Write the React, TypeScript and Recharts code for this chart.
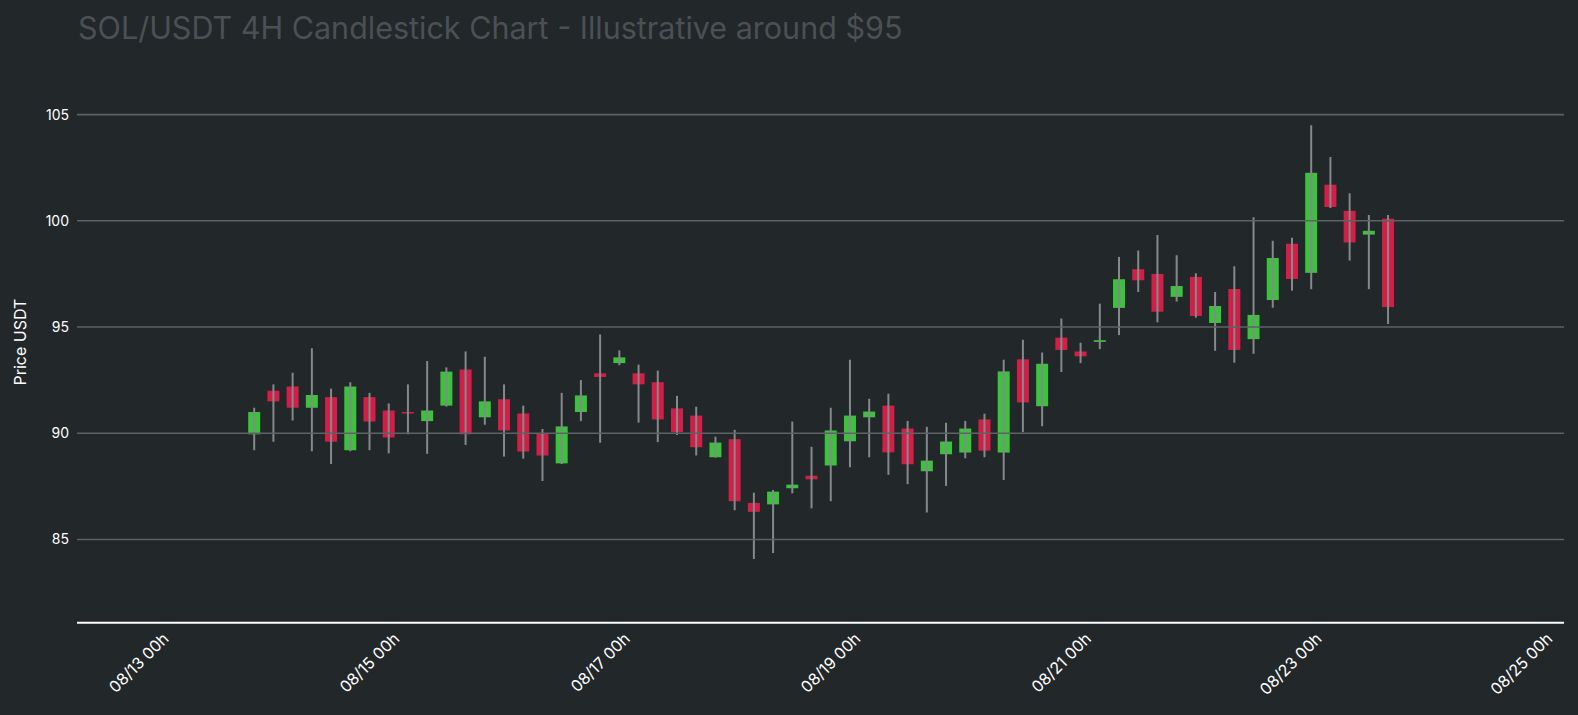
import React from "react";
import { ComposedChart, Bar, XAxis, YAxis, ReferenceLine } from "recharts";

// 4H candles, 08/13 20h .. 08/23 16h
const times = [
  "08/13 20", "08/14 00", "08/14 04", "08/14 08", "08/14 12", "08/14 16", "08/14 20",
  "08/15 00", "08/15 04", "08/15 08", "08/15 12", "08/15 16", "08/15 20",
  "08/16 00", "08/16 04", "08/16 08", "08/16 12", "08/16 16", "08/16 20",
  "08/17 00", "08/17 04", "08/17 08", "08/17 12", "08/17 16", "08/17 20",
  "08/18 00", "08/18 04", "08/18 08", "08/18 12", "08/18 16", "08/18 20",
  "08/19 00", "08/19 04", "08/19 08", "08/19 12", "08/19 16", "08/19 20",
  "08/20 00", "08/20 04", "08/20 08", "08/20 12", "08/20 16", "08/20 20",
  "08/21 00", "08/21 04", "08/21 08", "08/21 12", "08/21 16", "08/21 20",
  "08/22 00", "08/22 04", "08/22 08", "08/22 12", "08/22 16", "08/22 20",
  "08/23 00", "08/23 04", "08/23 08", "08/23 12", "08/23 16",
];

const opens = [
  89.95, 92.0, 92.2, 91.2, 91.7, 89.2, 91.7, 91.07, 91.0, 90.57, 91.3, 93.0,
  90.75, 91.6, 90.93, 90.0, 88.58, 91.0, 92.82, 93.3, 92.82, 92.4, 91.17, 90.83,
  88.87, 89.72, 86.72, 86.65, 87.41, 88.0, 88.48, 89.62, 90.75, 91.3, 90.22, 88.21,
  89.01, 89.09, 90.65, 89.09, 93.48, 91.27, 94.5, 93.85, 94.3, 95.9, 97.72, 97.5,
  96.42, 97.36, 95.19, 96.79, 94.43, 96.27, 98.92, 97.55, 101.7, 100.47, 99.35, 100.1,
];
const highs = [
  91.2, 92.3, 92.85, 94.0, 92.1, 92.4, 91.9, 91.4, 92.3, 93.4, 93.1, 93.85,
  93.6, 92.3, 91.3, 90.2, 91.9, 92.5, 94.65, 93.9, 93.23, 92.95, 91.76, 91.25,
  89.84, 90.16, 87.2, 87.33, 90.55, 89.36, 91.2, 93.46, 91.62, 91.86, 90.58, 90.3,
  90.49, 90.58, 90.92, 93.46, 94.4, 93.8, 95.4, 94.26, 96.1, 98.3, 98.6, 99.33,
  98.38, 97.53, 96.65, 97.86, 100.17, 99.06, 99.2, 104.5, 103.0, 101.3, 100.27, 100.27,
];
const lows = [
  89.2, 89.6, 90.6, 89.15, 88.55, 89.15, 89.2, 89.05, 89.95, 89.03, 91.25, 89.45,
  90.4, 88.9, 88.8, 87.75, 88.55, 90.57, 89.55, 93.2, 90.5, 89.58, 89.92, 88.95,
  88.85, 86.37, 84.08, 84.36, 87.17, 86.46, 86.8, 88.4, 88.87, 88.04, 87.6, 86.27,
  87.52, 88.82, 88.87, 87.8, 90.05, 90.33, 92.88, 93.3, 93.96, 94.62, 96.65, 95.22,
  96.2, 95.44, 93.88, 93.32, 93.74, 95.91, 96.71, 96.78, 100.6, 98.13, 96.78, 95.14,
];
const closes = [
  91.0, 91.5, 91.2, 91.8, 89.6, 92.2, 90.55, 89.8, 90.95, 91.07, 92.9, 89.95,
  91.5, 90.13, 89.14, 88.95, 90.32, 91.78, 92.65, 93.57, 92.3, 90.65, 90.05, 89.34,
  89.56, 86.8, 86.3, 87.25, 87.58, 87.83, 90.13, 90.83, 91.02, 89.1, 88.54, 88.71,
  89.61, 90.22, 89.18, 92.91, 91.45, 93.27, 93.92, 93.62, 94.38, 97.25, 97.2, 95.72,
  96.93, 95.52, 95.99, 93.92, 95.57, 98.25, 97.26, 102.26, 100.65, 98.98, 99.53, 95.94,
];

const tickLabels = ["08/13 00h", "08/15 00h", "08/17 00h", "08/19 00h", "08/21 00h", "08/23 00h", "08/25 00h"];
const tickHours = [0, 48, 96, 144, 192, 240, 288];
const priceTicks = [85, 90, 95, 100, 105];

const BG = "#22272a";
const UP = "#3cc23c";
const DOWN = "#d21f47";
const WICK = "#85898c";
const GRID = "#5d6265";
const FONT = "Inter, 'Noto Sans', sans-serif";

// hours since 08/13 00h
const toHours = (s: string) => {
  const day = parseInt(s.slice(3, 5), 10);
  const hour = parseInt(s.slice(6, 8), 10);
  return (day - 13) * 24 + hour;
};

const data = times.map((t, i) => ({
  t: toHours(t),
  open: opens[i],
  high: highs[i],
  low: lows[i],
  close: closes[i],
  range: [lows[i], highs[i]],
}));

const Candle = (props: any) => {
  const { x, y, width, height, payload } = props;
  const top = Math.min(y, y + height);
  const h = Math.abs(height);
  const span = payload.high - payload.low;
  const py = (v: number) => (span === 0 ? top : top + ((payload.high - v) / span) * h);
  const up = payload.close >= payload.open;
  const bTop = py(Math.max(payload.open, payload.close));
  const bBot = py(Math.min(payload.open, payload.close));
  const cx = x + width / 2;
  return (
    <g>
      <rect x={x} y={bTop} width={width} height={Math.max(bBot - bTop, 1.5)} fill={up ? UP : DOWN} />
      <line x1={cx} x2={cx} y1={top} y2={top + h} stroke={WICK} strokeWidth={2} />
    </g>
  );
};

const XTick = (props: any) => {
  const { x, y, payload } = props;
  const idx = tickHours.indexOf(payload.value);
  const ax = x + 12;
  const ay = y + 17;
  return (
    <text
      x={ax}
      y={ay}
      transform={`rotate(-45 ${ax} ${ay})`}
      textAnchor="end"
      fill="#ffffff"
      fontSize={16}
      fontFamily={FONT}
    >
      {idx >= 0 ? tickLabels[idx] : ""}
    </text>
  );
};

const YTitle = (props: any) => {
  const vb = props.viewBox || { y: 0, height: 0 };
  const cy = vb.y + vb.height / 2;
  return (
    <text
      x={20}
      y={cy}
      transform={`rotate(-90 20 ${cy})`}
      textAnchor="middle"
      dominantBaseline="central"
      fill="#ffffff"
      fontSize={16}
      fontFamily={FONT}
    >
      Price USDT
    </text>
  );
};

export default function App() {
  return (
    <div style={{ position: "absolute", left: 0, top: 0, width: 1578, height: 715, background: BG }}>
      <div
        style={{
          position: "absolute",
          left: 78,
          top: 13,
          fontFamily: FONT,
          fontSize: 30.5,
          lineHeight: 1,
          color: "#4b5055",
          whiteSpace: "nowrap",
        }}
      >
        SOL/USDT 4H Candlestick Chart - Illustrative around $95
      </div>
      <ComposedChart
        width={1578}
        height={715}
        data={data}
        margin={{ top: 61.5, right: 14, bottom: 0, left: 0 }}
      >
        {priceTicks.map((v) => (
          <ReferenceLine key={v} y={v} stroke={GRID} strokeWidth={1.6} ifOverflow="hidden" />
        ))}
        <XAxis
          dataKey="t"
          type="number"
          domain={[-16.8, 292.7]}
          ticks={tickHours}
          allowDataOverflow
          height={92.3}
          tickLine={false}
          tickSize={0}
          tickMargin={0}
          axisLine={{ stroke: "#ffffff", strokeWidth: 2 }}
          tick={<XTick />}
          interval={0}
        />
        <YAxis
          type="number"
          domain={[81.08, 107.5]}
          ticks={priceTicks}
          allowDataOverflow
          width={77}
          axisLine={false}
          tickLine={false}
          tickSize={0}
          tickMargin={8}
          tick={{ fill: "#ffffff", fontSize: 14, fontFamily: FONT }}
          label={<YTitle />}
        />
        <Bar dataKey="range" barSize={12} shape={<Candle />} isAnimationActive={false} />
      </ComposedChart>
    </div>
  );
}
